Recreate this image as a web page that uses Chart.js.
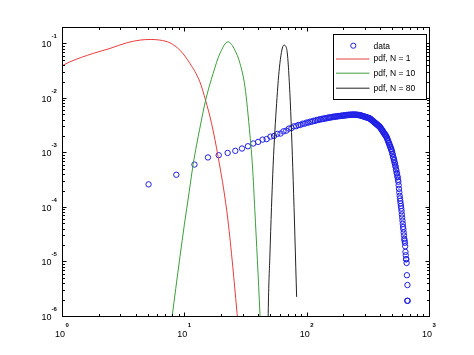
<!DOCTYPE html>
<html><head><meta charset="utf-8">
<script src="https://cdn.jsdelivr.net/npm/chart.js@4"></script>
<style>html,body{margin:0;padding:0;background:#fff}canvas{display:block}</style>
</head><body>
<canvas id="c" width="474" height="355"></canvas>
<script>
// ---- data ----
const dataX = [5.1, 8.6, 12.1, 15.6, 19.1, 22.6, 26.1, 29.6, 33.1, 36.6, 40.1, 43.6, 47.1, 50.6, 54.1, 57.6, 61.1, 64.6, 68.1, 71.6, 75.1, 78.6, 82.1, 85.6, 89.1, 92.6, 96.1, 99.6, 103.1, 106.6, 110.1, 113.6, 117.1, 120.6, 124.1, 127.6, 131.1, 134.6, 138.1, 141.6, 145.1, 148.6, 152.1, 155.6, 159.1, 162.6, 166.1, 169.6, 173.1, 176.6, 180.1, 183.6, 187.1, 190.6, 194.1, 197.6, 201.1, 204.6, 208.1, 211.6, 215.1, 218.6, 222.1, 225.6, 229.1, 232.6, 236.1, 239.6, 243.1, 246.6, 250.1, 253.6, 257.1, 260.6, 264.1, 267.6, 271.1, 274.6, 278.1, 281.6, 285.1, 288.6, 292.1, 295.6, 299.1, 302.6, 306.1, 309.6, 313.1, 316.6, 320.1, 323.6, 327.1, 330.6, 334.1, 337.6, 341.1, 344.6, 348.1, 351.6, 355.1, 358.6, 362.1, 365.6, 369.1, 372.6, 376.1, 379.6, 383.1, 386.6, 390.1, 393.6, 397.1, 400.6, 404.1, 407.6, 411.1, 414.6, 418.1, 421.6, 425.1, 428.6, 432.1, 435.6, 439.1, 442.6, 446.1, 449.6, 453.1, 456.6, 460.1, 463.6, 467.1, 470.6, 474.1, 477.6, 481.1, 484.6, 488.1, 491.6, 495.1, 498.6, 502.1, 505.6, 509.1, 512.6, 516.1, 519.6, 523.1, 526.6, 530.1, 533.6, 537.1, 540.6, 544.1, 547.6, 551.1, 554.6, 558.1, 561.6, 565.1, 568.6, 572.1, 575.6, 579.1, 582.6, 586.1, 589.6, 593.1, 596.6, 600.1, 603.6, 607.1, 610.6, 614.1, 617.6, 621.1, 624.6, 628.1, 631.6, 635.1, 638.6, 642.1, 645.6, 649.1, 652.6, 656.1, 659.6, 663.1, 666.6, 670.1];
const dataY = [2.6e-4, 3.9e-4, 6.0e-4, 8.1e-4, 8.9e-4, 9.8e-4, 1.07e-3, 1.18e-3, 1.30e-3, 1.46e-3, 1.56e-3, 1.72e-3, 1.76e-3, 1.95e-3, 2.00e-3, 2.19e-3, 2.22e-3, 2.44e-3, 2.51e-3, 2.74e-3, 2.80e-3, 3.01e-3, 3.03e-3, 3.19e-3, 3.20e-3, 3.37e-3, 3.36e-3, 3.53e-3, 3.52e-3, 3.67e-3, 3.66e-3, 3.81e-3, 3.79e-3, 3.94e-3, 3.92e-3, 4.08e-3, 4.03e-3, 4.16e-3, 4.13e-3, 4.25e-3, 4.22e-3, 4.35e-3, 4.31e-3, 4.43e-3, 4.39e-3, 4.51e-3, 4.47e-3, 4.57e-3, 4.52e-3, 4.63e-3, 4.58e-3, 4.67e-3, 4.64e-3, 4.73e-3, 4.68e-3, 4.77e-3, 4.73e-3, 4.83e-3, 4.78e-3, 4.87e-3, 4.82e-3, 4.91e-3, 4.85e-3, 4.94e-3, 4.88e-3, 4.96e-3, 4.90e-3, 4.97e-3, 4.90e-3, 4.96e-3, 4.89e-3, 4.95e-3, 4.87e-3, 4.92e-3, 4.83e-3, 4.88e-3, 4.80e-3, 4.83e-3, 4.72e-3, 4.74e-3, 4.64e-3, 4.66e-3, 4.55e-3, 4.58e-3, 4.48e-3, 4.50e-3, 4.40e-3, 4.43e-3, 4.33e-3, 4.35e-3, 4.26e-3, 4.28e-3, 4.19e-3, 4.18e-3, 4.03e-3, 4.02e-3, 3.88e-3, 3.87e-3, 3.74e-3, 3.72e-3, 3.60e-3, 3.59e-3, 3.47e-3, 3.47e-3, 3.34e-3, 3.34e-3, 3.23e-3, 3.23e-3, 3.12e-3, 3.12e-3, 3.01e-3, 3.02e-3, 2.90e-3, 2.87e-3, 2.74e-3, 2.72e-3, 2.58e-3, 2.57e-3, 2.44e-3, 2.43e-3, 2.30e-3, 2.30e-3, 2.18e-3, 2.18e-3, 2.06e-3, 2.07e-3, 1.96e-3, 1.96e-3, 1.83e-3, 1.79e-3, 1.67e-3, 1.63e-3, 1.52e-3, 1.50e-3, 1.39e-3, 1.37e-3, 1.27e-3, 1.26e-3, 1.17e-3, 1.16e-3, 1.07e-3, 1.04e-3, 9.4e-4, 9.2e-4, 8.2e-4, 8.1e-4, 7.3e-4, 7.2e-4, 6.5e-4, 6.3e-4, 5.7e-4, 5.45e-4, 4.9e-4, 4.7e-4, 4.2e-4, 4.1e-4, 3.65e-4, 3.5e-4, 3.15e-4, 2.9e-4, 2.5e-4, 2.15e-4, 1.85e-4, 1.6e-4, 1.43e-4, 1.29e-4, 1.16e-4, 1.04e-4, 9.4e-5, 8.4e-5, 7.3e-5, 6.4e-5, 5.6e-5, 4.9e-5, 4.3e-5, 3.9e-5, 3.4e-5, 3.0e-5, 2.6e-5, 2.4e-5, 2.2e-5, 1.9e-5, 1.5e-5, 1.3e-5, 1.1e-5, 1.1e-5, 9.4e-6, 5.6e-6, 1.9e-6, 3.7e-6, 1.9e-6];

const pdf1X = [1.0, 1.16, 1.80, 2.47, 3.38, 4.34, 5.3, 6.32, 7.62, 9.2, 11.1, 13.4, 14.9, 16.7, 18.9, 22.2, 24.3, 27.0, 28.5];
const pdf1Y = [0.0388, 0.0459, 0.0656, 0.0809, 0.1026, 0.115, 0.118, 0.115, 0.1026, 0.0753, 0.043, 0.0197, 0.0091, 0.0034, 8.3e-4, 8.7e-5, 1.4e-5, 1.1e-6, 3e-7];

const pdf10X = [7.76, 7.96, 8.51, 9.2, 10.0, 10.96, 11.8, 12.6, 13.4, 14.9, 17.2, 19.5, 22.8, 25.9, 28.5, 31.3, 34.4, 36.1, 37.7, 41.5, 42.5];
const pdf10Y = [6.3e-7, 1.0e-6, 3.2e-6, 1.2e-5, 4.7e-5, 1.9e-4, 6.0e-4, 1.38e-3, 2.8e-3, 8.9e-3, 0.0282, 0.0646, 0.107, 0.0753, 0.043, 0.016, 2.07e-3, 5.4e-4, 8.7e-5, 1.1e-6, 3e-7];

const pdf80X = [48.2, 48.5, 50.0, 53.2, 56.8, 60.4, 65.1, 68.5, 72.9, 77.6, 82.8];
const pdf80Y = [3e-7, 1.1e-6, 1.2e-5, 5.85e-4, 7.9e-3, 0.043, 0.093, 0.081, 0.0122, 3.1e-4, 2.24e-6];

const seriesNames = ['data', 'pdf, N = 1', 'pdf, N = 10', 'pdf, N = 80'];
const xTickExps = [0, 1, 2, 3];
const yTickExps = [-6, -5, -4, -3, -2, -1];
const xRange = [1, 1000];
const yRange = [1e-6, 0.2];

// ---- drawing ----
const FONT = '"Liberation Sans", Arial, Helvetica, sans-serif';
const pts = (xs, ys) => xs.map((x, i) => ({x: x, y: ys[i]}));
const colors = ['#2020e6', '#e83c3c', '#3a9e3a', '#222222'];

const frame = {
  id: 'frame',
  afterDraw(chart) {
    const ctx = chart.ctx, a = chart.chartArea, sx = chart.scales.x, sy = chart.scales.y;
    ctx.save();
    ctx.strokeStyle = '#000';
    ctx.lineWidth = 1;
    const L = Math.round(a.left) + 0.5, R = Math.round(a.right) + 0.5;
    const T = Math.round(a.top) + 0.5, B = Math.round(a.bottom) + 0.5;
    ctx.strokeRect(L, T, R - L, B - T);
    ctx.beginPath();
    for (let e = xTickExps[0]; e <= xTickExps[xTickExps.length - 1]; e++) {
      for (let m = 1; m <= 9; m++) {
        const v = m * Math.pow(10, e);
        if (v > xRange[1] * 1.0001) break;
        const p = Math.round(sx.getPixelForValue(v)) + 0.5;
        const len = m === 1 ? 4 : 2.5;
        ctx.moveTo(p, B); ctx.lineTo(p, B - len);
        ctx.moveTo(p, T); ctx.lineTo(p, T + len);
      }
    }
    for (let e = yTickExps[0]; e <= yTickExps[yTickExps.length - 1]; e++) {
      for (let m = 1; m <= 9; m++) {
        const v = m * Math.pow(10, e);
        if (v > yRange[1] * 1.0001) break;
        const p = Math.round(sy.getPixelForValue(v)) + 0.5;
        const len = m === 1 ? 4 : 2.5;
        ctx.moveTo(L, p); ctx.lineTo(L + len, p);
        ctx.moveTo(R, p); ctx.lineTo(R - len, p);
      }
    }
    ctx.stroke();

    ctx.fillStyle = '#000';
    xTickExps.forEach(e => {
      const p = sx.getPixelForValue(Math.pow(10, e));
      ctx.font = '9px ' + FONT;
      ctx.textAlign = 'center'; ctx.textBaseline = 'alphabetic';
      ctx.fillText('10', p - 2, 337);
      ctx.font = 'bold 6px ' + FONT;
      ctx.textAlign = 'left';
      ctx.fillText(String(e), p + 3.5, 327);
    });
    yTickExps.forEach(e => {
      const p = sy.getPixelForValue(Math.pow(10, e));
      ctx.font = '9px ' + FONT;
      ctx.textAlign = 'right'; ctx.textBaseline = 'alphabetic';
      ctx.fillText('10', 51.5, p + 4);
      ctx.font = 'bold 6px ' + FONT;
      ctx.textAlign = 'left';
      ctx.fillText(String(e), 51.5, p - 5);
    });

    const lx = 333.5, ly = 34.5, lw = 93, lh = 65;
    ctx.fillStyle = '#fff';
    ctx.fillRect(lx, ly, lw, lh);
    ctx.strokeStyle = '#000';
    ctx.strokeRect(lx, ly, lw, lh);
    const rows = [45.7, 58.5, 72.7, 87.7];
    ctx.font = '8.5px ' + FONT;
    ctx.textAlign = 'left'; ctx.textBaseline = 'middle';
    seriesNames.forEach((name, i) => {
      const yy = rows[i];
      ctx.strokeStyle = colors[i];
      ctx.lineWidth = 1;
      if (i === 0) {
        ctx.beginPath(); ctx.arc(353.3, yy, 2.6, 0, Math.PI * 2); ctx.stroke();
      } else {
        ctx.beginPath(); ctx.moveTo(336, yy + 0.5); ctx.lineTo(369.5, yy + 0.5); ctx.stroke();
      }
      ctx.fillStyle = '#000';
      ctx.fillText(name, 373.5, yy + 0.5);
    });
    ctx.restore();
  }
};

const lineDs = (label, xs, ys, color, order) => ({
  label: label, data: pts(xs, ys), showLine: true, borderColor: color, borderWidth: 1,
  pointRadius: 0, pointHoverRadius: 0, cubicInterpolationMode: 'monotone', fill: false, order: order
});

new Chart(document.getElementById('c'), {
  type: 'scatter',
  data: {
    datasets: [
      { label: seriesNames[0], data: pts(dataX, dataY), showLine: false, pointStyle: 'circle',
        pointRadius: 2.7, borderWidth: 1, borderColor: colors[0], backgroundColor: 'rgba(0,0,0,0)', order: 3 },
      lineDs(seriesNames[1], pdf1X, pdf1Y, colors[1], 2),
      lineDs(seriesNames[2], pdf10X, pdf10Y, colors[2], 1),
      lineDs(seriesNames[3], pdf80X, pdf80Y, colors[3], 0)
    ]
  },
  options: {
    responsive: false,
    animation: false,
    events: [],
    layout: { padding: { left: 62, right: 45, top: 27, bottom: 39 } },
    plugins: { legend: { display: false }, tooltip: { enabled: false } },
    scales: {
      x: { type: 'logarithmic', min: xRange[0], max: xRange[1], display: false },
      y: { type: 'logarithmic', min: yRange[0], max: yRange[1], display: false }
    }
  },
  plugins: [frame]
});
</script>
</body></html>
